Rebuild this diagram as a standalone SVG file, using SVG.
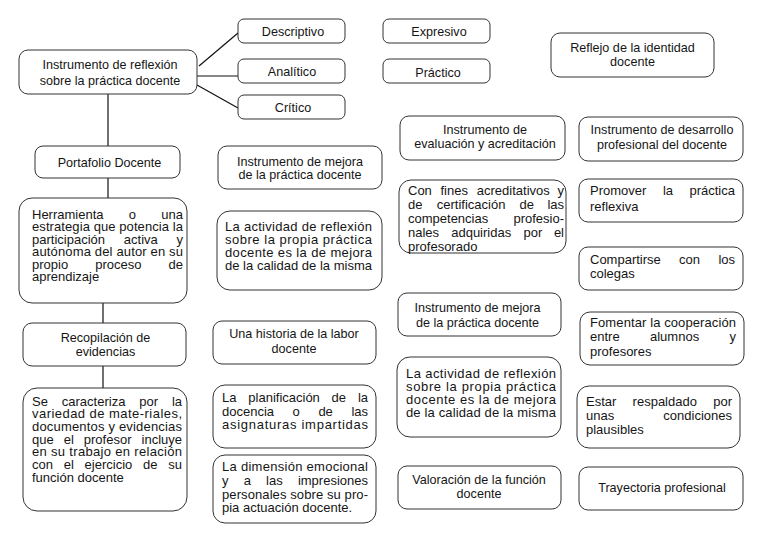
<svg xmlns="http://www.w3.org/2000/svg" width="768" height="543" viewBox="0 0 768 543">
<style>
.bg{fill:#fff}
.box{fill:#fff;stroke:#333;stroke-width:1}
.ln{stroke:#111;stroke-width:1.2;fill:none}
text{font-family:"Liberation Sans",Arial,Helvetica,sans-serif;fill:#151515}
.h{font-size:12.6px;text-anchor:middle}
.p{font-size:13px}
.e{text-anchor:end}
</style>
<rect class="bg" x="0" y="0" width="768" height="543"/>
<g id="connectors">
<line class="ln" x1="199" y1="66" x2="238" y2="33"/>
<line class="ln" x1="197" y1="76" x2="238" y2="76"/>
<line class="ln" x1="197" y1="85" x2="238" y2="108"/>
<line class="ln" x1="108" y1="94" x2="108" y2="146"/>
<line class="ln" x1="108" y1="178" x2="108" y2="198"/>
<line class="ln" x1="103" y1="303" x2="103" y2="323"/>
<line class="ln" x1="103" y1="366" x2="103" y2="388"/>
</g>
<g id="main">
<rect class="box" x="19" y="50" width="178" height="44" rx="9"/>
<text class="h" x="110" y="69">Instrumento de reflexión</text>
<text class="h" x="110" y="85">sobre la práctica docente</text>
</g>
<g id="descriptivo">
<rect class="box" x="238" y="19" width="107" height="24" rx="6"/>
<text class="h" x="293" y="36">Descriptivo</text>
</g>
<g id="analitico">
<rect class="box" x="238" y="59" width="107" height="24" rx="6"/>
<text class="h" x="292" y="76">Analítico</text>
</g>
<g id="critico">
<rect class="box" x="238" y="95" width="107" height="24" rx="6"/>
<text class="h" x="293" y="112">Crítico</text>
</g>
<g id="expresivo">
<rect class="box" x="383" y="19" width="107" height="24" rx="6"/>
<text class="h" x="439" y="36">Expresivo</text>
</g>
<g id="practico">
<rect class="box" x="383" y="59" width="107" height="24" rx="6"/>
<text class="h" x="438" y="76.5">Práctico</text>
</g>
<g id="reflejo">
<rect class="box" x="551" y="33" width="163" height="44" rx="9"/>
<text class="h" x="632.5" y="52">Reflejo de la identidad</text>
<text class="h" x="632.5" y="66">docente</text>
</g>
<g id="portafolio">
<rect class="box" x="35" y="146" width="145" height="32" rx="8"/>
<text class="h" x="109.5" y="166.5">Portafolio Docente</text>
</g>
<g id="herramienta">
<rect class="box" x="19" y="198" width="168" height="105" rx="13"/>
<text class="p" x="32" y="218.5">Herramienta</text><text class="p" x="128.8" y="218.5">o</text><text class="p e" x="183" y="218.5">una</text>
<text class="p" x="32" y="231" textLength="151" lengthAdjust="spacing">estrategia que potencia la</text>
<text class="p" x="32" y="243.5">participación</text><text class="p" x="123.8" y="243.5">activa</text><text class="p e" x="183" y="243.5">y</text>
<text class="p" x="32" y="256" textLength="151" lengthAdjust="spacing">autónoma del autor en su</text>
<text class="p" x="32" y="268.5">propio</text><text class="p" x="95.2" y="268.5">proceso</text><text class="p e" x="183" y="268.5">de</text>
<text class="p" x="32" y="281">aprendizaje</text>
</g>
<g id="recopilacion">
<rect class="box" x="23" y="323" width="163" height="43" rx="9"/>
<text class="h" x="105.5" y="341.5">Recopilación de</text>
<text class="h" x="105.5" y="355.5">evidencias</text>
</g>
<g id="caracteriza">
<rect class="box" x="23" y="388" width="164" height="123" rx="14"/>
<text class="p" x="32" y="405.5">Se</text><text class="p" x="61.8" y="405.5">caracteriza</text><text class="p" x="139.3" y="405.5">por</text><text class="p e" x="182" y="405.5">la</text>
<text class="p" x="32" y="418.2" textLength="150" lengthAdjust="spacing">variedad de mate-riales,</text>
<text class="p" x="32" y="430.9" textLength="150" lengthAdjust="spacing">documentos y evidencias</text>
<text class="p" x="32" y="443.6">que</text><text class="p" x="63.7" y="443.6">el</text><text class="p" x="83.8" y="443.6">profesor</text><text class="p e" x="182" y="443.6">incluye</text>
<text class="p" x="32" y="456.3" textLength="150" lengthAdjust="spacing">en su trabajo en relación</text>
<text class="p" x="32" y="469">con</text><text class="p" x="63.8" y="469">el</text><text class="p" x="84.6" y="469">ejercicio</text><text class="p" x="143" y="469">de</text><text class="p e" x="182" y="469">su</text>
<text class="p" x="32" y="481.7">función docente</text>
</g>
<g id="mejora1">
<rect class="box" x="218" y="146" width="164" height="43" rx="9"/>
<text class="h" x="300" y="165.5">Instrumento de mejora</text>
<text class="h" x="300" y="178.5">de la práctica docente</text>
</g>
<g id="actividad1">
<rect class="box" x="217" y="211" width="165" height="79" rx="13"/>
<text class="p" x="225" y="230.5" textLength="147" lengthAdjust="spacing">La actividad de reflexión</text>
<text class="p" x="225" y="243.5" textLength="147" lengthAdjust="spacing">sobre la propia práctica</text>
<text class="p" x="225" y="256.5" textLength="147" lengthAdjust="spacing">docente es la de mejora</text>
<text class="p" x="225" y="270" textLength="147" lengthAdjust="spacing">de la calidad de la misma</text>
</g>
<g id="historia">
<rect class="box" x="213" y="321" width="163" height="43" rx="9"/>
<text class="h" x="294" y="337.5">Una historia de la labor</text>
<text class="h" x="294" y="352.5">docente</text>
</g>
<g id="planificacion">
<rect class="box" x="213" y="385" width="163" height="63" rx="12"/>
<text class="p" x="222" y="401.5">La</text><text class="p" x="248.3" y="401.5">planificación</text><text class="p" x="331.6" y="401.5">de</text><text class="p e" x="368" y="401.5">la</text>
<text class="p" x="222" y="415.5">docencia</text><text class="p" x="292.6" y="415.5">o</text><text class="p" x="318.4" y="415.5">de</text><text class="p e" x="368" y="415.5">las</text>
<text class="p" x="222" y="428.5" textLength="146" lengthAdjust="spacing">asignaturas impartidas</text>
</g>
<g id="dimension">
<rect class="box" x="213" y="455" width="163" height="68" rx="12"/>
<text class="p" x="222" y="470.5" textLength="146" lengthAdjust="spacing">La dimensión emocional</text>
<text class="p" x="222" y="484.5">y</text><text class="p" x="243.7" y="484.5">a</text><text class="p" x="266.1" y="484.5">las</text><text class="p e" x="368" y="484.5">impresiones</text>
<text class="p" x="222" y="498.5" textLength="146" lengthAdjust="spacing">personales sobre su pro-</text>
<text class="p" x="222" y="512">pia actuación docente.</text>
</g>
<g id="evaluacion">
<rect class="box" x="400" y="116" width="165" height="44" rx="9"/>
<text class="h" x="485" y="133.5">Instrumento de</text>
<text class="h" x="485" y="147.5">evaluación y acreditación</text>
</g>
<g id="confines">
<rect class="box" x="399" y="180" width="167" height="73" rx="12"/>
<text class="p" x="408" y="194.5">Con</text><text class="p" x="440.5" y="194.5">fines</text><text class="p" x="476.8" y="194.5">acreditativos</text><text class="p e" x="564" y="194.5">y</text>
<text class="p" x="408" y="208.5">de</text><text class="p" x="436.8" y="208.5">certificación</text><text class="p" x="519.5" y="208.5">de</text><text class="p e" x="564" y="208.5">las</text>
<text class="p" x="408" y="222.5">competencias</text><text class="p e" x="564" y="222.5">profesio-</text>
<text class="p" x="408" y="236.5">nales</text><text class="p" x="451.2" y="236.5">adquiridas</text><text class="p" x="523.5" y="236.5">por</text><text class="p e" x="564" y="236.5">el</text>
<text class="p" x="408" y="250.5">profesorado</text>
</g>
<g id="mejora2">
<rect class="box" x="398" y="293" width="163" height="43" rx="9"/>
<text class="h" x="477.5" y="311.5">Instrumento de mejora</text>
<text class="h" x="477.5" y="326.5">de la práctica docente</text>
</g>
<g id="actividad2">
<rect class="box" x="397" y="357" width="164" height="80" rx="13"/>
<text class="p" x="406" y="377.5" textLength="150" lengthAdjust="spacing">La actividad de reflexión</text>
<text class="p" x="406" y="390.5" textLength="150" lengthAdjust="spacing">sobre la propia práctica</text>
<text class="p" x="406" y="403.5" textLength="150" lengthAdjust="spacing">docente es la de mejora</text>
<text class="p" x="406" y="416.5" textLength="150" lengthAdjust="spacing">de la calidad de la misma</text>
</g>
<g id="valoracion">
<rect class="box" x="398" y="466" width="163" height="43" rx="9"/>
<text class="h" x="479" y="483.5">Valoración de la función</text>
<text class="h" x="479" y="497.5">docente</text>
</g>
<g id="desarrollo">
<rect class="box" x="579" y="117" width="164" height="44" rx="9"/>
<text class="h" x="662" y="134">Instrumento de desarrollo</text>
<text class="h" x="662" y="149">profesional del docente</text>
</g>
<g id="promover">
<rect class="box" x="579" y="179" width="164" height="43" rx="9"/>
<text class="p" x="590" y="195">Promover</text><text class="p" x="662.9" y="195">la</text><text class="p e" x="735" y="195">práctica</text>
<text class="p" x="590" y="211">reflexiva</text>
</g>
<g id="compartirse">
<rect class="box" x="579" y="247" width="164" height="43" rx="9"/>
<text class="p" x="590" y="264">Compartirse</text><text class="p" x="679.1" y="264">con</text><text class="p e" x="735" y="264">los</text>
<text class="p" x="590" y="278">colegas</text>
</g>
<g id="fomentar">
<rect class="box" x="580" y="312" width="164" height="53" rx="10"/>
<text class="p" x="590" y="326.5" textLength="146" lengthAdjust="spacing">Fomentar la cooperación</text>
<text class="p" x="590" y="341">entre</text><text class="p" x="650" y="341">alumnos</text><text class="p e" x="736" y="341">y</text>
<text class="p" x="590" y="355.5">profesores</text>
</g>
<g id="estar">
<rect class="box" x="577" y="386" width="163" height="62" rx="12"/>
<text class="p" x="586" y="405.5">Estar</text><text class="p" x="632.6" y="405.5">respaldado</text><text class="p e" x="732" y="405.5">por</text>
<text class="p" x="586" y="419.5">unas</text><text class="p e" x="732" y="419.5">condiciones</text>
<text class="p" x="586" y="433.5">plausibles</text>
</g>
<g id="trayectoria">
<rect class="box" x="579" y="467" width="164" height="43" rx="9"/>
<text class="h" x="662" y="491.5">Trayectoria profesional</text>
</g>
</svg>
